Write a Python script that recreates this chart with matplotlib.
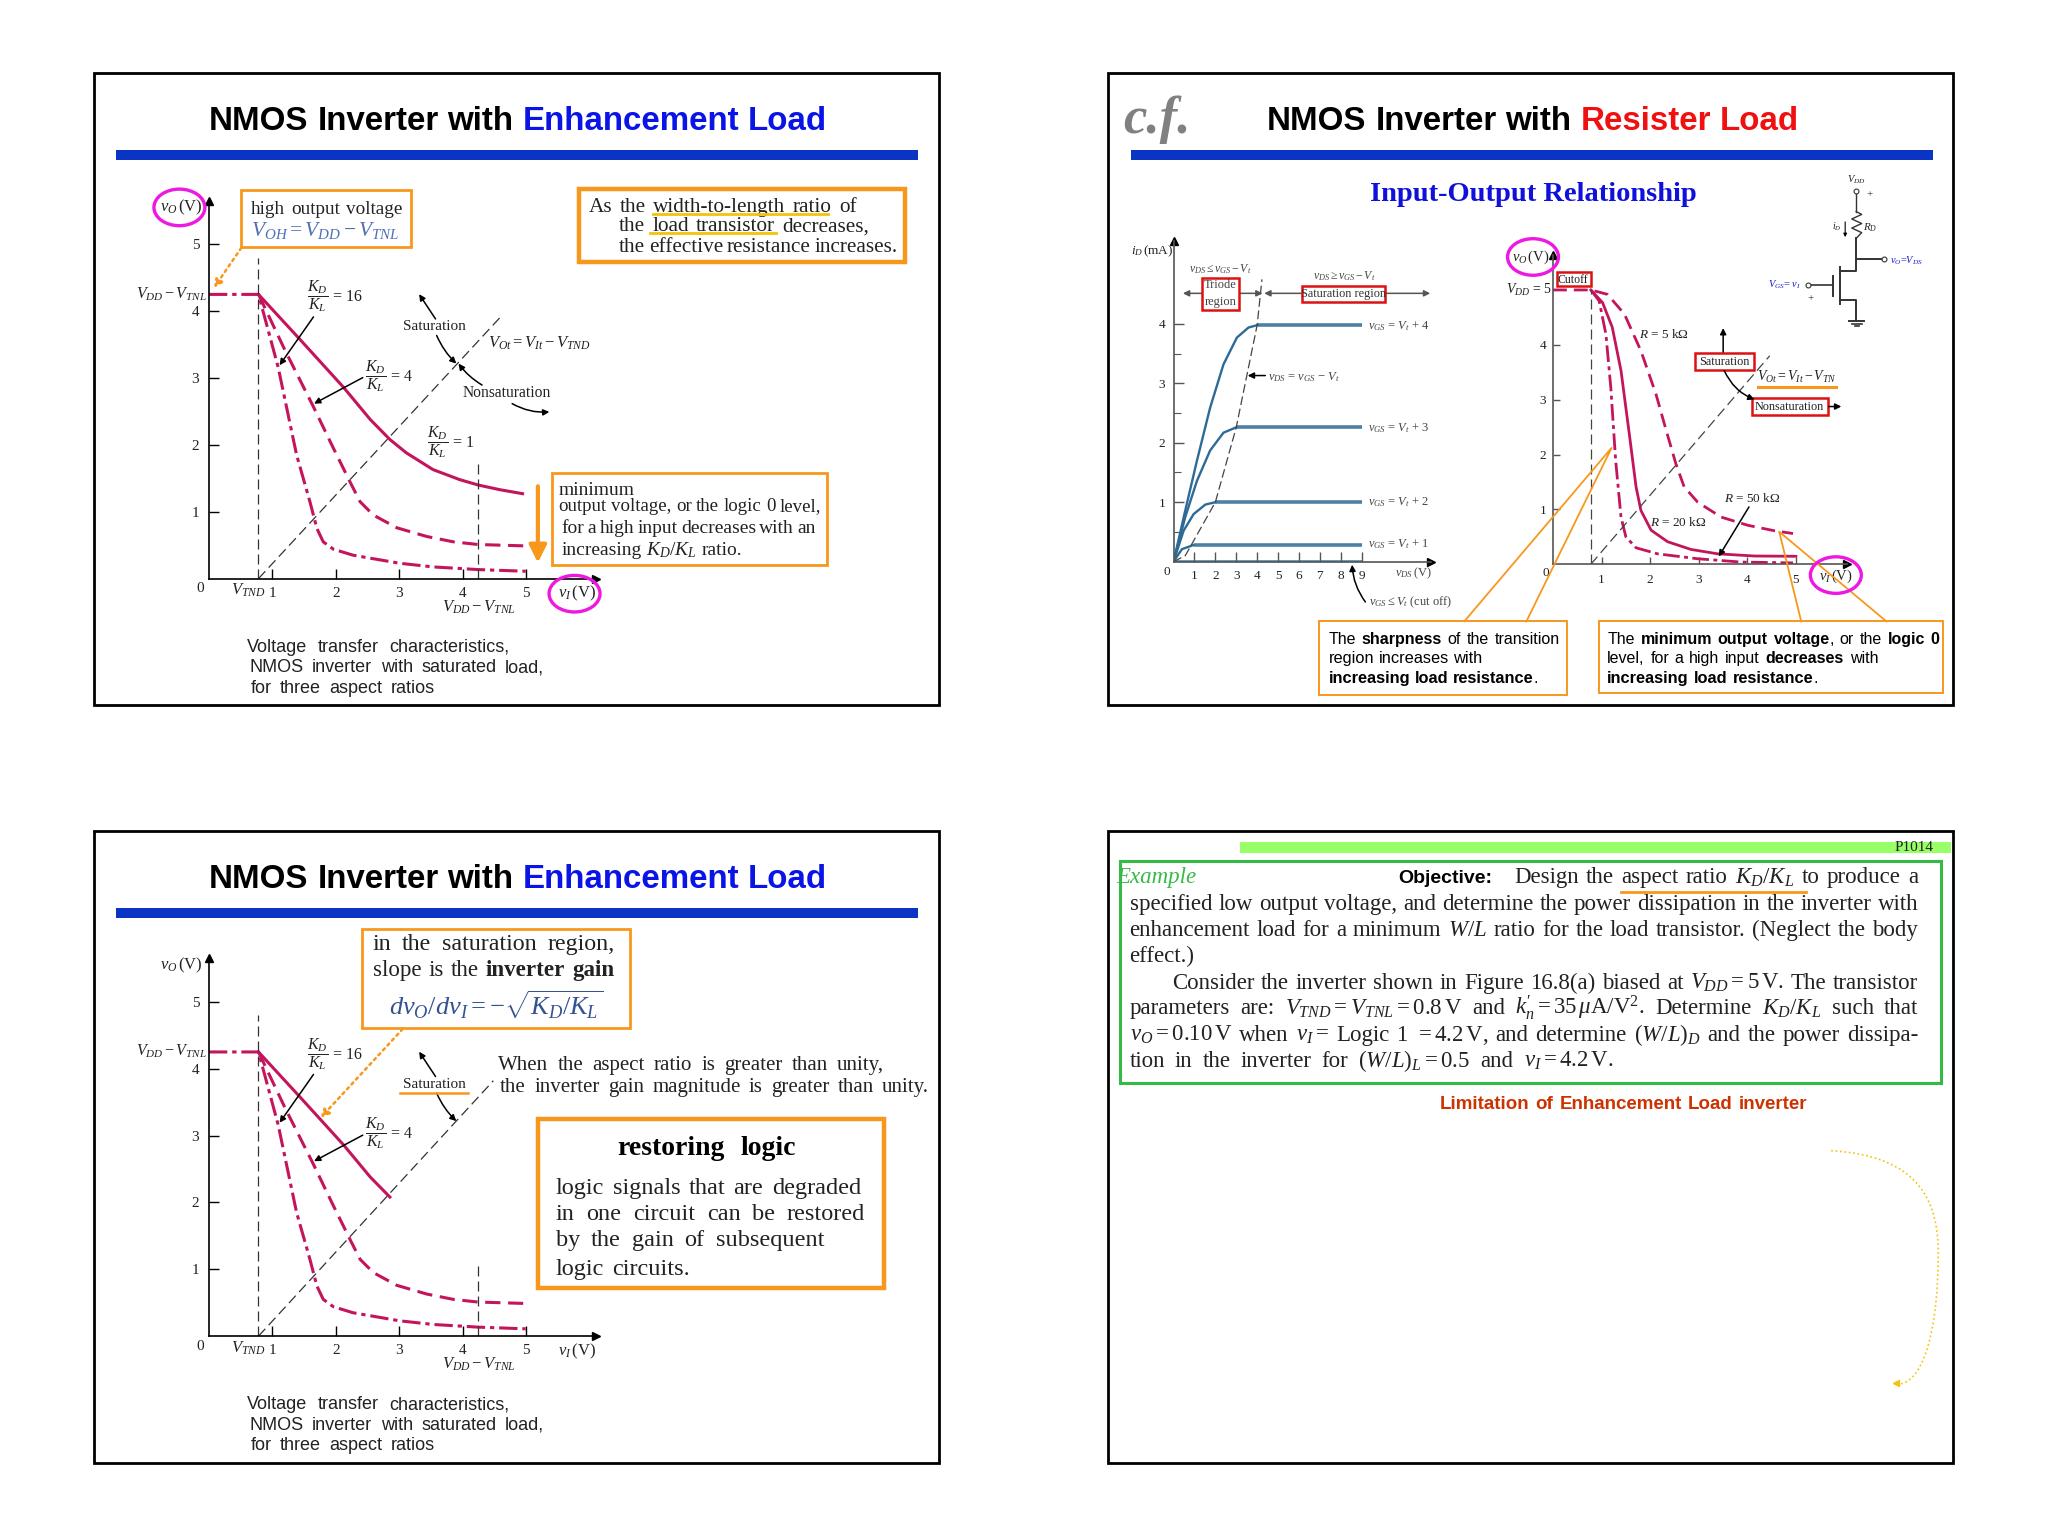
import matplotlib
matplotlib.use('Agg')
import matplotlib.pyplot as plt
from matplotlib.patches import Ellipse, Rectangle, PathPatch
from matplotlib.path import Path

plt.rcParams['font.family'] = ['Liberation Serif', 'DejaVu Serif']
plt.rcParams['mathtext.fontset'] = 'custom'
plt.rcParams['mathtext.rm'] = 'Liberation Serif'
plt.rcParams['mathtext.it'] = 'Liberation Serif:italic'
plt.rcParams['mathtext.bf'] = 'Liberation Serif:bold'

# enhancement load transfer curves
KD1_X = [0.78, 1.43, 2.12, 2.54, 2.85, 3.11, 3.53, 3.95, 4.24, 4.58, 4.94]
KD1_Y = [4.25, 3.58, 2.86, 2.38, 2.08, 1.88, 1.63, 1.48, 1.40, 1.33, 1.27]
KD4_X = [0.78, 1.2, 1.64, 1.96, 2.22, 2.38, 2.59, 2.96, 3.43, 3.85, 4.24, 4.95]
KD4_Y = [4.25, 3.41, 2.58, 1.95, 1.45, 1.15, 0.95, 0.76, 0.63, 0.55, 0.51, 0.49]
KD16_X = [0, 0.78, 1.09, 1.38, 1.59, 1.70, 1.8, 1.96, 2.27, 3.0, 3.53, 4.24, 4.99]
KD16_Y = [4.25, 4.25, 3.16, 1.85, 1.15, 0.75, 0.55, 0.44, 0.35, 0.23, 0.175, 0.135, 0.11]
KD1_CUT = 5  # third slide only shows the line up to the load line
LOADLINE_X = [0.78, 4.61]
LOADLINE_Y = [0, 3.93]
LOADLINE3_X = [0.78, 4.48]
LOADLINE3_Y = [0, 3.82]

# resistor load curves
R5_X = [0, 0.78, 1.12, 1.47, 1.81, 2.12, 2.33, 2.53, 2.70, 2.98, 3.46, 4.01, 4.56, 4.94]
R5_Y = [5, 5, 4.92, 4.56, 3.89, 3.10, 2.44, 1.83, 1.41, 1.13, 0.86, 0.71, 0.61, 0.56]
R20_X = [0.78, 1.02, 1.22, 1.40, 1.57, 1.71, 1.81, 2.02, 2.36, 2.84, 3.39, 4.15, 5.0]
R20_Y = [5, 4.77, 4.32, 3.53, 2.38, 1.41, 0.98, 0.62, 0.41, 0.27, 0.19, 0.15, 0.145]
R50_X = [0.78, 0.95, 1.09, 1.19, 1.29, 1.40, 1.5, 1.71, 2.15, 2.98, 3.87, 4.94]
R50_Y = [5, 4.8, 4.19, 3.22, 1.89, 0.86, 0.5, 0.3, 0.19, 0.10, 0.04, 0.025]
R_LOAD_X = [0.78, 4.46]
R_LOAD_Y = [0, 3.8]

# iD-vDS family
ID4_X = [0, 0.56, 1.12, 1.75, 2.39, 3.03, 3.59, 4.02]
ID4_Y = [0, 0.86, 1.70, 2.59, 3.32, 3.77, 3.94, 3.98]
ID3_X = [0, 0.56, 1.12, 1.75, 2.39, 3.0]
ID3_Y = [0, 0.75, 1.36, 1.87, 2.17, 2.26]
ID2_X = [0, 0.48, 0.96, 1.52, 2.0]
ID2_Y = [0, 0.52, 0.80, 0.96, 1.0]
ID1_X = [0, 0.4, 0.96]
ID1_Y = [0, 0.21, 0.28]
ID_SAT = [3.98, 2.26, 1.0, 0.28, 0.0]
ID_SAT_START = [4.02, 3.0, 2.0, 0.96, 0.0]
ID_LABELS = ['$v_{GS}$ = $V_t$ + 4', '$v_{GS}$ = $V_t$ + 3', '$v_{GS}$ = $V_t$ + 2', '$v_{GS}$ = $V_t$ + 1']
BOUND_X = [0, 0.56, 2, 3, 4, 4.23]
BOUND_Y = [0, 0.1, 1, 2.26, 3.98, 4.75]

VTC_TICKS = [1, 2, 3, 4, 5]
VDS_TICKS = [1, 2, 3, 4, 5, 6, 7, 8, 9]
ID_MINOR = [0.5, 1.5, 2.5, 3.5]

PINK = '#c4145c'
ORANGE = '#f7981d'
BLUE_BAR = '#0a35c4'
TEAL = '#2d6b96'
MAGENTA = '#ee18e0'
RED = '#dd1111'
GREEN = '#35bb45'

K = 2048 / 1568
fig = plt.figure(figsize=(20.48, 15.36), dpi=100)
ov = fig.add_axes([0, 0, 1, 1], zorder=5)
ov.set_xlim(0, 1568)
ov.set_ylim(1176, 0)
ov.axis('off')
ov.patch.set_alpha(0)
rend = fig.canvas.get_renderer()


# each slide was read in its own crop, these map crop coords to canvas
def p1(x, y):
    return 72 + (x - 6) * 0.419, 56 + (y - 5) * 0.3163


def p1b(x, y):
    return 72 + (x - 6) * 0.419, 636 + (y - 5) * 0.3163


def p2(x, y):
    return 848 + (x - 13) * 0.4208, 56 + (y - 5) * 0.3163


def p3(x, y):
    return 72 + (x - 6) * 0.419, 636 + (y - 10) * 0.3163


def p4(x, y):
    return 848 + (x - 15) * 0.4208, 631.7 + y * 0.2544


def line_words(p, x0, y, words, size, x1=None, gap=0.25, color='#222222', family=None):
    """Draw words on one baseline, spread out to reach x1 when it is given."""
    xa, ya = p(x0, y)
    items = []
    for w in words:
        opts = {}
        if isinstance(w, tuple):
            w, opts = w
        opts = dict(opts)
        glue = opts.pop('glue', False)
        ul = opts.pop('ul', False)
        opts.setdefault('color', color)
        if family:
            opts.setdefault('family', family)
        t = ov.text(xa, ya, w, fontsize=size, va='baseline', ha='left', **opts)
        wd = t.get_window_extent(rend).width / K
        items.append((t, wd, glue, ul))
    n_gaps = sum(1 for it in items[1:] if not it[2])
    total = sum(it[1] for it in items)
    g = gap * size * (100 / 72) / K
    if x1 is not None and n_gaps:
        g = (p(x1, y)[0] - xa - total) / n_gaps
    cx = xa
    for i, (t, wd, glue, ul) in enumerate(items):
        if i and not glue:
            cx += g
        t.set_x(cx)
        if ul:
            ov.plot([cx, cx + wd], [ya + 2, ya + 2], color=t.get_color(), lw=1.4)
        cx += wd


def box(p, x0, y0, x1, y1, color=ORANGE, lw=2.0, face='white'):
    xa, ya = p(x0, y0)
    xb, yb = p(x1, y1)
    ov.add_patch(Rectangle((xa, ya), xb - xa, yb - ya, fc=face, ec=color, lw=lw, zorder=2.5))


def seg(p, pts, color='black', lw=1.0, **kw):
    xy = [p(*q) for q in pts]
    ov.plot([q[0] for q in xy], [q[1] for q in xy], color=color, lw=lw, **kw)


def arrow(p, a, b, color='black', lw=1.1, rad=0.0, style='-|>', ms=9, ls='-', z=3):
    ov.annotate('', xy=p(*b), xytext=p(*a), zorder=z,
                arrowprops=dict(arrowstyle=style, color=color, lw=lw, mutation_scale=ms, ls=ls,
                                shrinkA=0, shrinkB=0, connectionstyle='arc3,rad=%s' % rad))


def label(p, x, y, s, size=11, ha='center', va='center', **kw):
    xa, ya = p(x, y)
    kw.setdefault('color', '#222222')
    ov.text(xa, ya, s, fontsize=size, ha=ha, va=va, **kw)


def ring(p, x, y, w, h):
    xa, ya = p(x, y)
    ov.add_patch(Ellipse((xa, ya), w, h, fc='none', ec=MAGENTA, lw=2.4, zorder=4))


def slide_frame(x0, y0, title, accent, accent_color, tx, bar_x0):
    ov.add_patch(Rectangle((x0, y0), 647, 484, fc='none', ec='black', lw=2.0))
    ov.add_patch(Rectangle((bar_x0, y0 + 59), 614, 7.5, fc=BLUE_BAR, ec='none'))
    words = [(w, dict(weight='bold', color='black')) for w in title.split()]
    words += [(w, dict(weight='bold', color=accent_color)) for w in accent.split()]
    line_words(lambda a, b: (a, b), tx, y0 + 43.5, words, 23.85, family='Liberation Sans', gap=0.27)


def chart_axes(x0, y0, xunit, yunit, xmax, ymax, axis_color='black'):
    ax = fig.add_axes([x0 / 1568, 1 - y0 / 1176, xmax * xunit / 1568, ymax * yunit / 1176], zorder=1)
    ax.set_xlim(0, xmax)
    ax.set_ylim(0, ymax)
    ax.patch.set_alpha(0)
    for s in ['top', 'right']:
        ax.spines[s].set_visible(False)
    for s in ['left', 'bottom']:
        ax.spines[s].set_linewidth(1.2)
        ax.spines[s].set_color(axis_color)
    ax.tick_params(direction='in', length=7, width=1.0, labelsize=11, color=axis_color, labelcolor='#222222')
    ax.plot(1, 0, '>', color='black', ms=6, transform=ax.transAxes, clip_on=False)
    ax.plot(0, 1, '^', color='black', ms=6, transform=ax.transAxes, clip_on=False)
    return ax


def enhancement_chart(x0, y0, p, full):
    ax = chart_axes(x0, y0, 48.6, 51.2, 6.1, 5.65)
    ax.set_xticks(VTC_TICKS, [str(v) for v in VTC_TICKS])
    ax.set_yticks(VTC_TICKS, [str(v) for v in VTC_TICKS])
    ax.tick_params(axis='x', pad=6)
    ax.tick_params(axis='y', pad=7)
    n = len(KD1_X) if full else KD1_CUT
    ax.plot(KD1_X[:n], KD1_Y[:n], color=PINK, lw=2.2)
    ax.plot(KD4_X, KD4_Y, color=PINK, lw=2.2, ls=(0, (5, 2.5)))
    ax.plot(KD16_X, KD16_Y, color=PINK, lw=2.2, ls=(0, (6, 1.6, 1.4, 1.6)))
    lx, ly = (LOADLINE_X, LOADLINE_Y) if full else (LOADLINE3_X, LOADLINE3_Y)
    ax.plot(lx, ly, color='#333333', lw=0.9, ls=(0, (8, 4)))
    ax.plot([0.78, 0.78], [0, 4.8], color='#333333', lw=0.9, ls=(0, (8, 4)))
    ax.plot([4.24, 4.24], [0, 1.73 if full else 1.05], color='#333333', lw=0.9, ls=(0, (8, 4)))

    label(p, 165, 330, '$v_O\\,$(V)', 12)
    label(p, 148, 540, '$V_{DD}-V_{TNL}$', 11.5)
    label(p, 200, 1253, '0', 11)
    label(p, 287, 1258, '$V_{TND}$', 12)
    label(p, 710, 1297, '$V_{DD}-V_{TNL}$', 12)
    label(p, 888, 1265, '$v_I\\,$(V)', 12)
    label(p, 447, 545, '$\\dfrac{K_D}{K_L}$ = 16', 11.5)
    label(p, 545, 738, '$\\dfrac{K_D}{K_L}$ = 4', 11.5)
    arrow(p, (407, 595), (345, 712))
    arrow(p, (497, 742), (408, 805))
    label(p, 628, 619, 'Saturation', 11)
    arrow(p, (630, 600), (600, 540))
    arrow(p, (632, 640), (668, 708), rad=0.1)
    line_words(p, 285, 1405, ['Voltage', 'transfer', 'characteristics,'], 13, x1=765, family='Liberation Sans')
    line_words(p, 290, 1455, ['NMOS', 'inverter', 'with', 'saturated', 'load,'], 13, x1=828, family='Liberation Sans')
    line_words(p, 292, 1505, ['for', 'three', 'aspect', 'ratios'], 13, x1=628, family='Liberation Sans')
    if full:
        label(p, 657, 898, '$\\dfrac{K_D}{K_L}$ = 1', 11.5)
        label(p, 760, 780, 'Nonsaturation', 11.2)
        label(p, 820, 660, '$V_{Ot}=V_{It}-V_{TND}$', 12)
        arrow(p, (715, 760), (672, 708), rad=-0.1)
        arrow(p, (770, 805), (838, 825), rad=0.15)


# --- slide 1
slide_frame(72, 56, 'NMOS Inverter with', 'Enhancement Load', '#0a14e6', 160, 89)
enhancement_chart(160, 443, p1, True)
ring(p1, 162, 330, 39, 28)
ring(p1, 884, 1265, 39, 28)
box(p1, 275, 288, 585, 425)
line_words(p1, 293, 345, 'high output voltage'.split(), 13.8, x1=570)
line_words(p1, 292, 400, ['$V_{OH}=V_{DD}-V_{TNL}$'], 15.5, color='#4f6fb5')
arrow(p1, (275, 428), (225, 525), color=ORANGE, lw=1.8, ls=':', ms=12)
box(p1, 892, 285, 1488, 462, lw=3.2)
line_words(p1, 910, 340, 'As the width-to-length ratio of'.split(), 15.3, x1=1400)
line_words(p1, 965, 388, 'the load transistor decreases,'.split(), 15.3, x1=1422)
line_words(p1, 965, 437, 'the effective resistance increases.'.split(), 15.3, x1=1475)
seg(p1, [(1028, 347), (1348, 347)], color='#f2c40a', lw=2.0, zorder=3)
seg(p1, [(1022, 392), (1252, 392)], color='#f2c40a', lw=2.0, zorder=3)
box(p1, 842, 972, 1345, 1195)
line_words(p1, 855, 1025, ['minimum'], 14)
line_words(p1, 855, 1065, 'output voltage, or the logic 0 level,'.split(), 13.6, x1=1335)
line_words(p1, 860, 1117, 'for a high input decreases with an'.split(), 14, x1=1325)
line_words(p1, 860, 1172, ['increasing', '$K_D/K_L$', 'ratio.'], 14, x1=1190)
arrow(p1, (817, 1005), (817, 1190), color=ORANGE, lw=3.0, ms=26)

# --- slide 2
slide_frame(848, 56, 'NMOS Inverter with', 'Resister Load', '#f01010', 970, 866)
label(p2, 103, 118, 'c.f.', 38, color='#808080', style='italic', weight='bold')
label(p2, 787, 298, 'Input-Output Relationship', 20.5, color='#1010dd', weight='bold')

ax_id = chart_axes(898.5, 430, 16.0, 45.5, 12.3, 5.4, axis_color='#555555')
ax_id.set_xticks(VDS_TICKS, [str(v) for v in VDS_TICKS])
ax_id.set_yticks([1, 2, 3, 4], ['1', '2', '3', '4'])
ax_id.set_yticks(ID_MINOR, minor=True)
ax_id.tick_params(axis='y', which='minor', direction='in', length=5, width=0.8, color='#555555')
ax_id.tick_params(axis='x', labelsize=9.5, pad=6)
ax_id.tick_params(axis='y', labelsize=9.5, pad=6)
for cx, cy in [(ID4_X, ID4_Y), (ID3_X, ID3_Y), (ID2_X, ID2_Y), (ID1_X, ID1_Y)]:
    ax_id.plot(cx, cy, color=TEAL, lw=1.7)
for start, level in zip(ID_SAT_START, ID_SAT):
    ax_id.plot([start, 9], [level, level], color=TEAL, lw=2.6, alpha=0.85, solid_capstyle='butt')
ax_id.plot(BOUND_X, BOUND_Y, color='#444444', lw=0.9, ls=(0, (7, 3)))
for lab, yz in zip(ID_LABELS, [617, 863, 1043, 1146]):
    label(p2, 487, yz, lab, 9, ha='left', color='#444444')
label(p2, 95, 435, '$i_D\\,$(mA)', 9.5)
label(p2, 218, 480, '$v_{DS}\\leq v_{GS}-V_t$', 8.5, color='#444444')
label(p2, 443, 497, '$v_{DS}\\geq v_{GS}-V_t$', 8.5, color='#444444')
arrow(p2, (185, 538), (150, 538), color='#555555', z=2)
arrow(p2, (252, 538), (295, 538), color='#555555', z=2)
arrow(p2, (367, 538), (298, 538), color='#555555', z=2)
arrow(p2, (518, 538), (600, 538), color='#555555', z=2)
box(p2, 185, 500, 252, 578, color=RED, lw=1.8)
box(p2, 367, 520, 518, 558, color=RED, lw=1.8)
label(p2, 218, 519, 'Triode', 9, color='#444444', zorder=4)
label(p2, 218, 560, 'region', 9, color='#444444', zorder=4)
label(p2, 443, 540, 'Saturation region', 8.8, color='#333333', zorder=4)
arrow(p2, (300, 737), (268, 737))
label(p2, 305, 741, '$v_{DS}$ = $v_{GS}$ $-$ $V_t$', 9, ha='left', color='#444444')
label(p2, 121, 1213, '0', 9.5)
label(p2, 570, 1216, '$v_{DS}\\,$(V)', 9, color='#444444')
label(p2, 488, 1287, '$v_{GS}\\leq V_t$ (cut off)', 9, ha='left', color='#444444')
arrow(p2, (482, 1285), (458, 1195), rad=-0.15)

ax_r = chart_axes(1189, 432, 37.2, 42.0, 6.05, 5.64, axis_color='#555555')
ax_r.set_xticks(VTC_TICKS, [str(v) for v in VTC_TICKS])
ax_r.set_yticks(VTC_TICKS[:4], [str(v) for v in VTC_TICKS[:4]])
ax_r.tick_params(axis='both', labelsize=9.5, length=5)
ax_r.tick_params(axis='x', pad=7)
ax_r.tick_params(axis='y', pad=5)
ax_r.plot(R5_X, R5_Y, color=PINK, lw=2.0, ls=(0, (5, 2.5)))
ax_r.plot(R20_X, R20_Y, color=PINK, lw=2.0)
ax_r.plot(R50_X, R50_Y, color=PINK, lw=2.0, ls=(0, (6, 1.6, 1.4, 1.6)))
ax_r.plot(R_LOAD_X, R_LOAD_Y, color='#444444', lw=0.9, ls=(0, (8, 4)))
ax_r.plot([0.78, 0.78], [0, 5], color='#444444', lw=0.9, ls=(0, (8, 4)))
label(p2, 783, 450, '$v_O\\,$(V)', 10.5)
label(p2, 780, 530, '$V_{DD}$ = 5', 10)
label(p2, 810, 1215, '0', 9.5)
label(p2, 1025, 637, '$R$ = 5 k$\\Omega$', 9.5)
label(p2, 1186, 1034, '$R$ = 50 k$\\Omega$', 9.5)
label(p2, 1052, 1093, '$R$ = 20 k$\\Omega$', 9.5)
arrow(p2, (1180, 1055), (1125, 1175))
label(p2, 1338, 1222, '$v_I\\,$(V)', 10.5)
label(p2, 1268, 740, '$V_{Ot}=V_{It}-V_{TN}$', 10)
seg(p2, [(1197, 765), (1338, 765)], color=ORANGE, lw=2.2)
arrow(p2, (1133, 680), (1133, 622))
arrow(p2, (1135, 725), (1190, 795), rad=0.2)
arrow(p2, (1325, 812), (1348, 812))
box(p2, 830, 487, 892, 520, color=RED, lw=1.8)
label(p2, 860, 505, 'Cutoff', 8.5, zorder=4)
box(p2, 1082, 682, 1189, 724, color=RED, lw=1.8)
label(p2, 1135, 703, 'Saturation', 8.8, zorder=4)
box(p2, 1186, 791, 1324, 832, color=RED, lw=1.8)
label(p2, 1253, 812, 'Nonsaturation', 8.8, zorder=4)
ring(p2, 787, 450, 39, 28)
ring(p2, 1338, 1220, 39, 28)

# small schematic in the corner
seg(p2, [(1375, 295), (1375, 340)], color='#333333')
seg(p2, [(1375, 340), (1385, 347), (1367, 358), (1385, 369), (1367, 380), (1385, 391), (1375, 405)], color='#333333')
seg(p2, [(1375, 405), (1375, 485), (1345, 485)], color='#333333', lw=1.4)
seg(p2, [(1375, 455), (1420, 455)], color='#333333', lw=1.4)
seg(p2, [(1345, 475), (1345, 565)], color='#333333', lw=1.4)
seg(p2, [(1333, 495), (1333, 545)], color='#333333', lw=1.4)
seg(p2, [(1293, 518), (1333, 518)], color='#333333', lw=1.2)
seg(p2, [(1345, 555), (1375, 555), (1375, 605)], color='#333333', lw=1.4)
seg(p2, [(1362, 605), (1390, 605)], color='#333333', lw=1.4)
seg(p2, [(1367, 612), (1385, 612)], color='#333333', lw=1.2)
seg(p2, [(1372, 618), (1380, 618)], color='#333333', lw=1.2)
for cxz, cyz in [(1375, 290), (1425, 456), (1288, 518)]:
    ov.plot(*p2(cxz, cyz), 'o', mfc='white', mec='#333333', ms=3.5, mew=0.8)
label(p2, 1376, 262, '$V_{DD}$', 7.5)
label(p2, 1399, 300, '+', 8)
label(p2, 1292, 552, '+', 8)
label(p2, 1401, 380, '$R_D$', 8)
label(p2, 1339, 376, '$i_D$', 7)
arrow(p2, (1355, 365), (1355, 402), lw=0.8, ms=5)
label(p2, 1467, 458, '$v_O$=$V_{DS}$', 7.5, color='#1a1acc')
label(p2, 1245, 518, '$V_{GS}$= $v_I$', 7.5, color='#1a1acc')

box(p2, 398, 1332, 848, 1510, lw=1.4)
box(p2, 908, 1332, 1533, 1505, lw=1.4)
seg(p2, [(662, 1332), (930, 912), (775, 1332)], color=ORANGE, lw=1.3, zorder=3)
seg(p2, [(1275, 1332), (1235, 1115), (1430, 1332)], color=ORANGE, lw=1.3, zorder=3)
BD = dict(weight='bold', ul=True)
sans = 'Liberation Sans'
line_words(p2, 415, 1387, ['The', ('sharpness', BD), 'of', 'the', 'transition'], 11.5, x1=835, family=sans, color='black')
line_words(p2, 415, 1433, 'region increases with'.split(), 11.8, x1=695, family=sans, color='black')
line_words(p2, 415, 1482, [('increasing', BD), ('load', BD), ('resistance', BD), ('.', dict(glue=True))], 11.8, x1=797, family=sans, color='black')
line_words(p2, 922, 1387, ['The', ('minimum', BD), ('output', BD), ('voltage', BD), (',', dict(glue=True)), 'or', 'the', ('logic', BD), ('0', BD)], 11.5, x1=1527, family=sans, color='black')
line_words(p2, 922, 1433, ['level,', 'for', 'a', 'high', 'input', ('decreases', BD), 'with'], 11.5, x1=1415, family=sans, color='black')
line_words(p2, 922, 1482, [('increasing', BD), ('load', BD), ('resistance', BD), ('.', dict(glue=True))], 11.8, x1=1305, family=sans, color='black')

# --- slide 3
slide_frame(72, 636, 'NMOS Inverter with', 'Enhancement Load', '#0a14e6', 160, 89)
enhancement_chart(160, 1023, p1b, False)
box(p3, 495, 247, 985, 487)
line_words(p3, 515, 298, 'in the saturation region,'.split(), 17.3, x1=957)
line_words(p3, 515, 362, ['slope', 'is', 'the', ('inverter', dict(weight='bold')), ('gain', dict(weight='bold'))], 16.6, x1=957)
label(p3, 740, 432, '$dv_O/dv_I=-\\sqrt{K_D/K_L}$', 19, color='#33528f')
arrow(p3, (570, 490), (420, 705), color=ORANGE, lw=1.8, ls=':', ms=12)
seg(p3, [(565, 645), (690, 645)], color=ORANGE, lw=1.8, zorder=3)
line_words(p3, 745, 590, 'When the aspect ratio is greater than unity,'.split(), 15, x1=1450)
line_words(p3, 748, 642, 'the inverter gain magnitude is greater than unity.'.split(), 15, x1=1532)
box(p3, 817, 707, 1450, 1118, lw=3.2)
line_words(p3, 962, 795, [('restoring', dict(weight='bold')), ('logic', dict(weight='bold'))], 20, x1=1288, color='black')
line_words(p3, 850, 890, 'logic signals that are degraded'.split(), 17.5, x1=1407)
line_words(p3, 850, 953, 'in one circuit can be restored'.split(), 17.5, x1=1415)
line_words(p3, 850, 1015, 'by the gain of subsequent'.split(), 17.5, x1=1340)
line_words(p3, 850, 1085, 'logic circuits.'.split(), 17.5, x1=1095)

# --- slide 4
ov.add_patch(Rectangle((848, 636), 647, 484, fc='none', ec='black', lw=2.0))
ov.add_patch(Rectangle((949, 645), 545, 8, fc='#99ff66', ec='none'))
label(p4, 1482, 68, 'P1014', 11)
box(p4, 38, 107, 1532, 775, color=GREEN, lw=2.2, face='none')
line_words(p4, 30, 175, [('Example', dict(style='italic'))], 16.5, color=GREEN)
line_words(p4, 543, 175, [('Objective:', dict(weight='bold', family='Liberation Sans'))], 14, color='black')
line_words(p4, 755, 175, 'Design the aspect ratio $K_D/K_L$ to produce a'.split(), 16.5, x1=1490)
line_words(p4, 55, 255, 'specified low output voltage, and determine the power dissipation in the inverter with'.split(), 16.5, x1=1490)
line_words(p4, 55, 335, 'enhancement load for a minimum $W/L$ ratio for the load transistor. (Neglect the body'.split(), 16.5, x1=1490)
line_words(p4, 55, 413, ['effect.)'], 16.5)
line_words(p4, 132, 493, 'Consider the inverter shown in Figure 16.8(a) biased at $V_{DD}=5\\,$V. The transistor'.split(), 16.5, x1=1490)
line_words(p4, 55, 570, "parameters are: $V_{TND}=V_{TNL}=0.8\\,$V and $k_n^{\\prime}=35\\,\\mu$A/V$^2$. Determine $K_D/K_L$ such that".split(), 16.5, x1=1490)
line_words(p4, 55, 650, '$v_O=0.10\\,$V when $v_I=$ Logic 1 $=4.2\\,$V, and determine $(W/L)_D$ and the power dissipa-'.split(), 16.5, x1=1490)
line_words(p4, 55, 727, 'tion in the inverter for $(W/L)_L=0.5$ and $v_I=4.2\\,$V.'.split(), 16.5, x1=935)
seg(p4, [(950, 200), (1285, 200)], color=ORANGE, lw=2.0, zorder=3)
line_words(p4, 620, 855, [(w, dict(weight='bold')) for w in 'Limitation of Enhancement Load inverter'.split()],
           13.5, x1=1288, family=sans, color='#cc3300')
# yellow pointer sweeping down the right edge
sweep = Path([(1402, 881), (1470, 885), (1484, 920), (1484, 960), (1484, 1010), (1475, 1060), (1452, 1060)],
             [Path.MOVETO, Path.CURVE4, Path.CURVE4, Path.CURVE4, Path.CURVE4, Path.CURVE4, Path.CURVE4])
ov.add_patch(PathPatch(sweep, fc='none', ec='#f2c40a', lw=1.2, ls=':'))
ov.plot(1452, 1059, '<', color='#f2c40a', ms=4)

ov.set_xlim(0, 1568)
ov.set_ylim(1176, 0)
fig.savefig('out.png', dpi=100, facecolor='white')
